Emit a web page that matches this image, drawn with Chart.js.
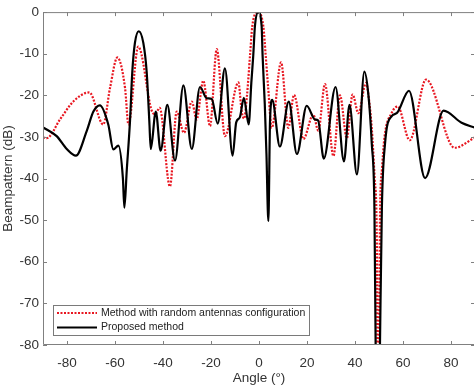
<!DOCTYPE html>
<html>
<head>
<meta charset="utf-8">
<script src="https://cdn.jsdelivr.net/npm/chart.js@4/dist/chart.umd.min.js"></script>
<style>
  html, body { margin: 0; padding: 0; background: #fff; overflow: hidden; }
  canvas { display: block; }
</style>
</head>
<body>
<canvas id="beamChart" width="475" height="386"></canvas>
<script>
/* ===============================
   DATA
================================ */
const xTickValues = [-80, -60, -40, -20, 0, 20, 40, 60, 80];
const yTickValues = [-80, -70, -60, -50, -40, -30, -20, -10, 0];

// Method with random antennas configuration (red dotted)
const randomAngles = [
    -90, -88.5, -82.9, -77.4, -70.7, -64.9, -62.1, -59, -55.8, -54.4,
    -50.3, -44.7, -43.2, -41.4, -37.1, -34.3, -31.25, -28, -26, -23.2,
    -20.4, -17.6, -14.2, -8.6, -7.2, -6.2, -5, -3.75, -2.8, -0.5,
    1.8, 2.8, 3.8, 5.3, 9.2, 12.2, 14.6, 18.5, 22.6, 24.7,
    27.5, 31, 33.75, 36.6, 39, 41.4, 44.6, 45.6, 47, 48.2,
    49.1, 49.7, 50.4, 51.2, 52.3, 55.3, 57.8, 62.8, 69.6, 81.5,
    90
];
const randomDb = [
    -30.1, -30.3, -25.8, -21.5, -19.3, -27, -18.3, -10.9, -18.3, -27,
    -8.3, -23.7, -24.5, -23, -41.9, -23.9, -29, -21.5, -25.8, -16.5,
    -27.4, -8.9, -29.8, -16.9, -23.9, -25.6, -20, -10.5, -3.4, 0,
    -3.4, -10.5, -18, -27.8, -12.1, -27.8, -19.9, -30.5, -24.6, -28.5,
    -17.3, -34.6, -20, -30.3, -19.8, -24.3, -17, -20, -28, -40,
    -55, -120, -50, -38, -30, -24.2, -22.7, -30.8, -16.2, -32.6,
    -30.1
];

// Proposed method (black solid)
const proposedAngles = [
    -90, -84.3, -80.1, -76.3, -71.8, -69, -66.3, -62.8, -60.7, -58.6,
    -56.7, -56.1, -55.1, -53.75, -52.8, -51.7, -50.1, -48.2, -46.8, -45.7,
    -45.1, -43, -41, -38.2, -35, -31.5, -28, -24.6, -21.8, -19.7,
    -17.2, -14.2, -11, -9.5, -8, -6.3, -4.3, -3.2, -2.4, -1.7,
    -0.3, 1.1, 1.5, 2.4, 3.1, 3.9, 4.6, 5.5, 8.7, 12.4,
    15.8, 19.9, 23.3, 24.6, 27, 31.9, 35.4, 37.7, 40.8, 43.9,
    45.6, 47, 48.1, 48.6, 49.5, 50.4, 51.2, 52.5, 55.3, 57.4,
    62.5, 69.2, 76.9, 84.4, 90
];
const proposedDb = [
    -27.7, -29.8, -32.9, -34.5, -28.6, -23.9, -22.4, -27, -33, -32.1,
    -40, -47, -38, -26.2, -14.4, -7.4, -4.6, -7.4, -14.4, -26.2,
    -32.9, -23.9, -33.3, -22.3, -35.7, -17.6, -32.9, -18, -20.7, -20.9,
    -26.8, -13.5, -34.5, -26.5, -25.3, -20.6, -27, -17, -10.5, -3.4,
    0, -3.4, -10.5, -22, -34, -50.2, -26, -21.1, -32.3, -21.5,
    -34.1, -22.5, -25.8, -26, -35.2, -18, -35.9, -22.3, -39, -14.3,
    -20, -31.7, -47.4, -80, -120, -80, -47, -31.7, -25, -24.3,
    -18.9, -39.9, -23.7, -26.6, -27.8
];

const FONT = "'Liberation Sans', Arial, Helvetica, sans-serif";
const AXIS_COLOR = "#808080";
const TEXT_COLOR = "#333333";
const RED = "rgb(232, 22, 32)";

function toPoints(xs, ys) {
    return xs.map((x, i) => ({ x: x, y: ys[i] }));
}

/* ===============================
   BOX, INWARD TICKS, LEGEND
================================ */
const frameAndLegend = {
    id: "frameAndLegend",
    afterDatasetsDraw(chart) {
        const { ctx, chartArea: a, scales } = chart;
        const tl = 4;
        ctx.save();
        ctx.strokeStyle = AXIS_COLOR;
        ctx.lineWidth = 1;
        ctx.beginPath();
        ctx.rect(a.left + 0.5, a.top + 0.5, a.right - a.left - 1, a.bottom - a.top - 1);
        ctx.stroke();

        ctx.beginPath();
        scales.x.ticks.forEach(t => {
            const px = Math.round(scales.x.getPixelForValue(t.value)) + 0.5;
            ctx.moveTo(px, a.bottom); ctx.lineTo(px, a.bottom - tl);
            ctx.moveTo(px, a.top); ctx.lineTo(px, a.top + tl);
        });
        scales.y.ticks.forEach(t => {
            const py = Math.round(scales.y.getPixelForValue(t.value)) + 0.5;
            ctx.moveTo(a.left, py); ctx.lineTo(a.left + tl, py);
            ctx.moveTo(a.right, py); ctx.lineTo(a.right - tl, py);
        });
        ctx.stroke();

        // legend box (lower left)
        const bx = 53.5, by = 305.5, bw = 256, bh = 30;
        ctx.fillStyle = "#fff";
        ctx.fillRect(bx, by, bw, bh);
        ctx.strokeStyle = "#7a7a7a";
        ctx.strokeRect(bx, by, bw, bh);

        const rows = [chart.data.datasets[1], chart.data.datasets[0]];
        ctx.font = "10.5px " + FONT;
        ctx.textBaseline = "middle";
        rows.forEach((ds, i) => {
            const ly = 313 + i * 14.5;
            ctx.beginPath();
            ctx.strokeStyle = ds.borderColor;
            ctx.lineWidth = ds.borderWidth;
            ctx.setLineDash(ds.borderDash || []);
            ctx.moveTo(57, ly); ctx.lineTo(97, ly);
            ctx.stroke();
            ctx.setLineDash([]);
            ctx.fillStyle = "#222";
            ctx.fillText(ds.label, 101, ly);
        });
        ctx.restore();
    }
};

/* ===============================
   CHART
================================ */
document.addEventListener("DOMContentLoaded", () => {
    const ctx = document.getElementById("beamChart").getContext("2d");

    new Chart(ctx, {
        type: "line",
        data: {
            datasets: [{
                label: "Proposed method",
                data: toPoints(proposedAngles, proposedDb),
                borderColor: "#000000",
                borderWidth: 2.2,
                pointRadius: 0,
                cubicInterpolationMode: "monotone",
                clip: 0
            }, {
                label: "Method with random antennas configuration",
                data: toPoints(randomAngles, randomDb),
                borderColor: RED,
                borderWidth: 2.2,
                borderDash: [2, 1.5],
                pointRadius: 0,
                cubicInterpolationMode: "monotone",
                clip: 0
            }]
        },
        options: {
            responsive: false,
            animation: false,
            devicePixelRatio: 1,
            layout: { padding: { top: 6, right: 0, bottom: 0, left: 0 } },
            plugins: {
                legend: { display: false },
                tooltip: { enabled: false }
            },
            scales: {
                x: {
                    type: "linear",
                    min: -90,
                    max: 90,
                    grid: { display: false, drawTicks: false },
                    border: { display: false },
                    afterBuildTicks: s => { s.ticks = xTickValues.map(v => ({ value: v })); },
                    afterFit: s => { s.height = 41; },
                    ticks: {
                        padding: 10,
                        maxRotation: 0,
                        autoSkip: false,
                        color: TEXT_COLOR,
                        font: { family: FONT, size: 13.5 }
                    },
                    title: {
                        display: true,
                        text: "Angle (°)",
                        color: TEXT_COLOR,
                        padding: 0,
                        font: { family: FONT, size: 13.5 }
                    }
                },
                y: {
                    type: "linear",
                    min: -80,
                    max: 0,
                    grid: { display: false, drawTicks: false },
                    border: { display: false },
                    afterBuildTicks: s => { s.ticks = yTickValues.map(v => ({ value: v })); },
                    afterFit: s => { s.width = 43; },
                    ticks: {
                        padding: 4,
                        autoSkip: false,
                        color: TEXT_COLOR,
                        font: { family: FONT, size: 13.5 }
                    },
                    title: {
                        display: true,
                        text: "Beampattern (dB)",
                        color: TEXT_COLOR,
                        padding: 0,
                        font: { family: FONT, size: 13.5 }
                    }
                }
            }
        },
        plugins: [frameAndLegend]
    });
});
</script>
</body>
</html>
